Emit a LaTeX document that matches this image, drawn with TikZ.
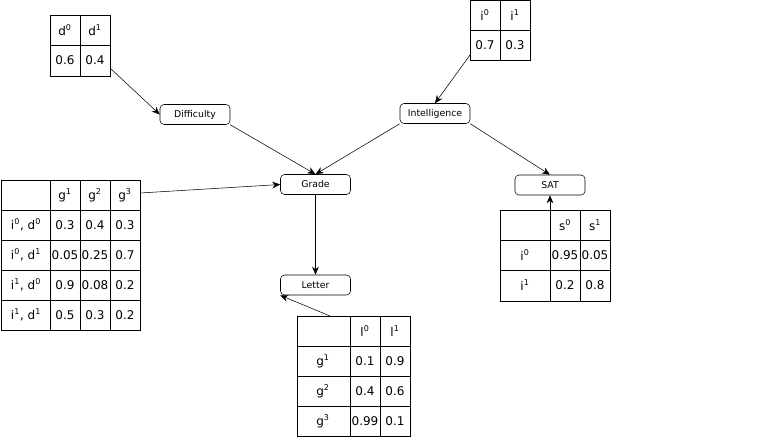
\documentclass[tikz,border=0pt]{standalone}
\usepackage{fontspec}
\setmainfont{DejaVu Sans}
\usetikzlibrary{arrows.meta}
\tikzset{
  varnode/.style={draw, rounded corners=3pt, minimum width=52.5pt, minimum height=15pt, inner sep=0pt, font=\fontsize{7}{8}\selectfont},
  cpt/.style={inner sep=0pt, minimum width=0pt},
  cell/.style={inner sep=0pt, font=\fontsize{9}{10}\selectfont},
  link/.style={-{Stealth[length=6pt,width=5pt]}},
}
\newcommand{\up}[1]{\textsuperscript{#1}}
\begin{document}
\begin{tikzpicture}[x=0.75pt,y=0.75pt,yscale=-1,xscale=1]
\useasboundingbox (0,0) rectangle (757,437);

% Variables
\node[varnode] (difficulty) at (195,114.5) {Difficulty};
\node[varnode] (intelligence) at (435,113.5) {Intelligence};
\node[varnode] (grade) at (315.5,184.5) {Grade};
\node[varnode] (sat) at (550,185) {SAT};
\node[varnode] (letter) at (315.5,285) {Letter};

% Table: Difficulty
\draw (50,15) rectangle (110,76);
\draw (80,15) -- (80,76) (50,45) -- (110,45);
\node[cell] at (65,30) {d\up{0}};
\node[cell] at (95,30) {d\up{1}};
\node[cell] at (65,60) {0.6};
\node[cell] at (95,60) {0.4};
\coordinate (dtab) at (110,68);

% Table: Intelligence
\draw (470,0) rectangle (530,60);
\draw (500,0) -- (500,60) (470,30) -- (530,30);
\node[cell] at (485,15) {i\up{0}};
\node[cell] at (515,15) {i\up{1}};
\node[cell] at (485,45) {0.7};
\node[cell] at (515,45) {0.3};
\coordinate (itab) at (470,55);

% Table: Grade
\draw (1,180) rectangle (140,330);
\foreach \x in {50,80,110} \draw (\x,180) -- (\x,330);
\foreach \y in {210,240,270,300} \draw (1,\y) -- (140,\y);
\foreach \t [count=\i] in {g\up{1},g\up{2},g\up{3}}
  \node[cell] at (35+30*\i,195) {\t};
\foreach \t [count=\i] in {{i\up{0}, d\up{0}},{i\up{0}, d\up{1}},{i\up{1}, d\up{0}},{i\up{1}, d\up{1}}}
  \node[cell] at (26,195+30*\i) {\t};
\foreach \a/\b/\c [count=\i] in {0.3/0.4/0.3,0.05/0.25/0.7,0.9/0.08/0.2,0.5/0.3/0.2}{
  \node[cell] at (65,195+30*\i) {\a};
  \node[cell] at (95,195+30*\i) {\b};
  \node[cell] at (125,195+30*\i) {\c};
}
\coordinate (gtab) at (140,193);

% Table: SAT
\draw (500,210) rectangle (610,301);
\foreach \x in {550,580} \draw (\x,210) -- (\x,301);
\foreach \y in {240,270} \draw (500,\y) -- (610,\y);
\node[cell] at (565,225) {s\up{0}};
\node[cell] at (595,225) {s\up{1}};
\node[cell] at (525,255) {i\up{0}};
\node[cell] at (525,285) {i\up{1}};
\node[cell] at (565,255) {0.95};
\node[cell] at (595,255) {0.05};
\node[cell] at (565,285) {0.2};
\node[cell] at (595,285) {0.8};
\coordinate (stab) at (550,210);

% Table: Letter
\draw (297,316) rectangle (410,436);
\foreach \x in {350,380} \draw (\x,316) -- (\x,436);
\foreach \y in {346,376,406} \draw (297,\y) -- (410,\y);
\node[cell] at (365,331) {l\up{0}};
\node[cell] at (395,331) {l\up{1}};
\foreach \t/\a/\b [count=\i] in {g\up{1}/0.1/0.9,g\up{2}/0.4/0.6,g\up{3}/0.99/0.1}{
  \node[cell] at (323,331+30*\i) {\t};
  \node[cell] at (365,331+30*\i) {\a};
  \node[cell] at (395,331+30*\i) {\b};
}
\coordinate (ltab) at (330,316);

% Links
\draw[link] (dtab) -- (difficulty.west);
\draw[link] (itab) -- (intelligence.north);
\draw[link] (gtab) -- (grade.west);
\draw[link] (stab) -- (sat.south);
\draw[link] (ltab) -- (letter.south west);
\draw[link] (difficulty.south east) -- (grade.north);
\draw[link] (intelligence.south west) -- (grade.north);
\draw[link] (intelligence.south east) -- (sat.north);
\draw[link] (grade.south) -- (letter.north);

\end{tikzpicture}
\end{document}
